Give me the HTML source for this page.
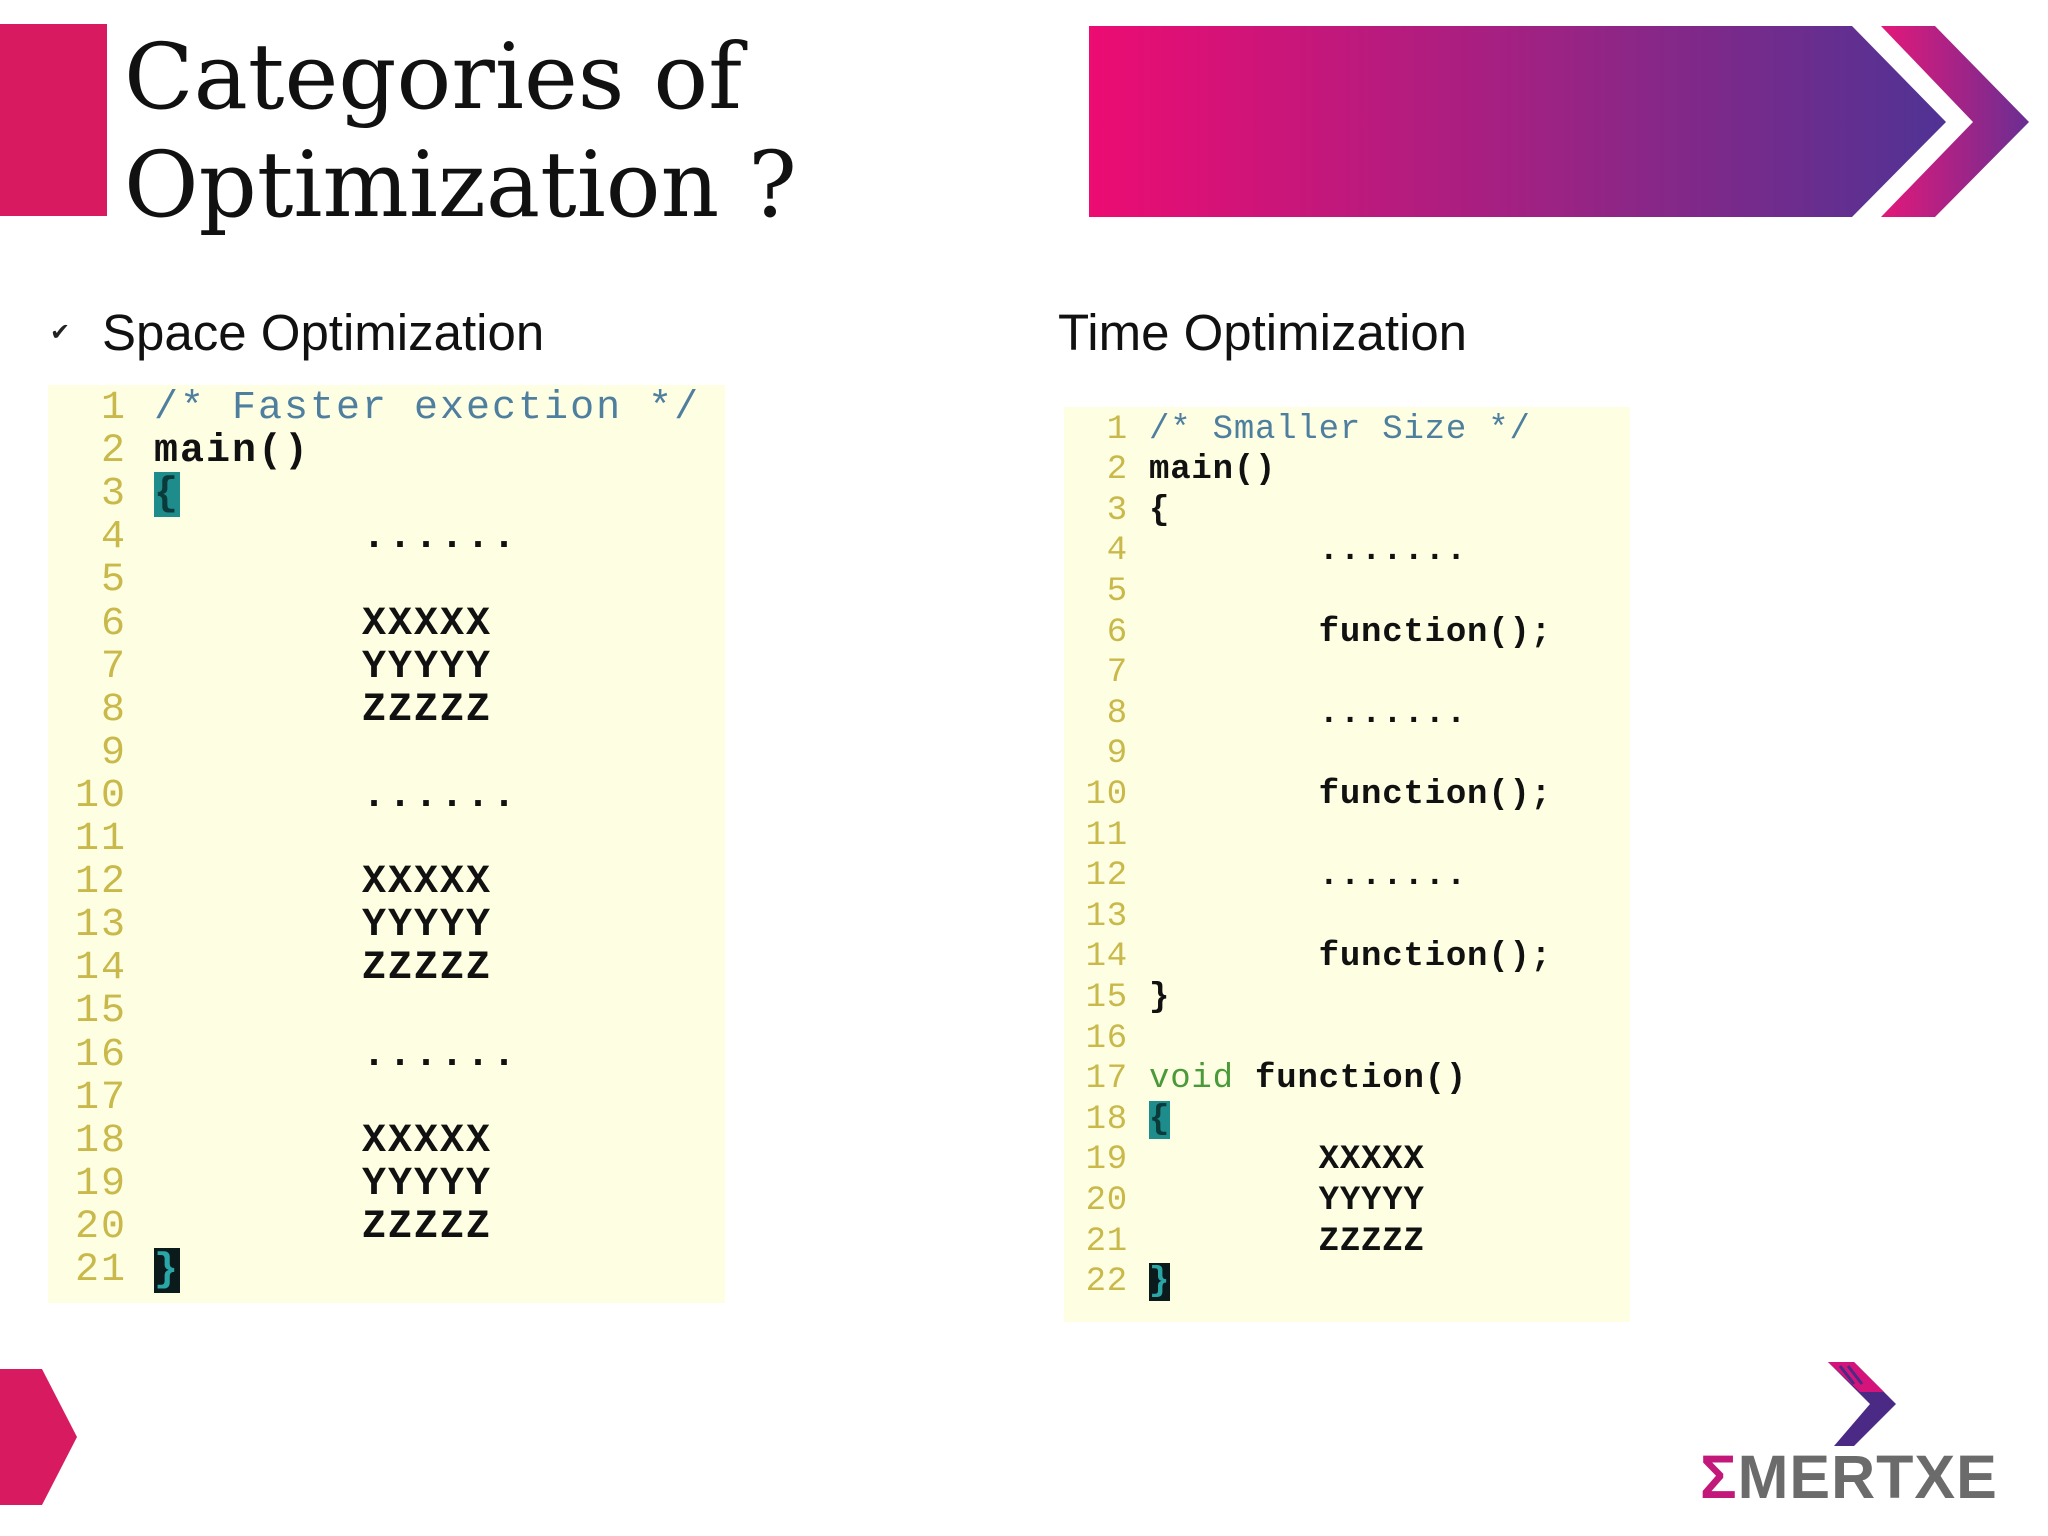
<!DOCTYPE html>
<html><head><meta charset="utf-8">
<style>
html,body{margin:0;padding:0;background:#fff;}
#page{position:relative;width:2048px;height:1536px;overflow:hidden;background:#fff;font-family:"Liberation Sans",sans-serif;}
.abs{position:absolute;}
.title{font-family:"DejaVu Serif","Liberation Serif",serif;font-size:91px;color:#111;left:124px;white-space:nowrap;line-height:1;}
.sub{font-size:51px;color:#111;white-space:nowrap;line-height:1;}
.codebox{background:#fefee3;}
.ln{position:absolute;text-align:right;font-family:"Liberation Mono",monospace;color:#c9b84a;white-space:pre;}
.cl{position:absolute;font-family:"Liberation Mono",monospace;color:#111;white-space:pre;font-weight:bold;}
.cm{color:#4f7f9f;font-weight:normal;}
.kw{color:#4a9a3a;font-weight:normal;}
.cur{background:#1f8c8c;color:#0a3a3a;}
.curd{background:#0b1a1a;color:#2aa6a6;}
</style></head>
<body>
<div id="page">
  <div class="abs" style="left:0;top:24px;width:107px;height:192px;background:#d81b60;"></div>
  <div class="abs title" style="top:32px;">Categories of</div>
  <div class="abs title" style="top:140px;">Optimization ?</div>

  <svg class="abs" style="left:1089px;top:26px;" width="940" height="192" viewBox="0 0 940 192">
    <defs>
      <linearGradient id="g1" x1="0" x2="1" y1="0" y2="0">
        <stop offset="0" stop-color="#ec0c72"/>
        <stop offset="0.55" stop-color="#9a2384"/>
        <stop offset="1" stop-color="#4f3394"/>
      </linearGradient>
      <linearGradient id="g2" x1="0" x2="1" y1="0" y2="0">
        <stop offset="0" stop-color="#e3187a"/>
        <stop offset="1" stop-color="#6a2e92"/>
      </linearGradient>
    </defs>
    <polygon points="0,0 763,0 857,96 763,191 0,191" fill="url(#g1)"/>
    <polygon points="792,0 846,0 940,96 846,191 792,191 884,96" fill="url(#g2)"/>
  </svg>

  <div class="abs" style="left:50px;top:318px;font-size:24px;color:#222;">✔</div>
  <div class="abs sub" style="left:102px;top:307px;">Space Optimization</div>
  <div class="abs sub" style="left:1058px;top:307px;">Time Optimization</div>

  <div class="abs codebox" id="boxL" style="left:48px;top:385px;width:677px;height:918px;"></div>
  <div class="abs codebox" id="boxR" style="left:1064px;top:407px;width:566px;height:915px;"></div>

  <svg class="abs" style="left:0;top:1369px;" width="80" height="140">
    <polygon points="0,0 42,0 77,68 42,136 0,136" fill="#d81b60"/>
  </svg>

  <svg class="abs" style="left:1820px;top:1362px;" width="80" height="90">
    <polygon points="8,0 34,0 76,42 34,84 14,84 50,42" fill="#4b2a86"/>
    <polygon points="8,0 34,0 64,30 40,30" fill="#d4147a"/>
    <line x1="20" y1="4" x2="34" y2="22" stroke="#4b2a86" stroke-width="3"/>
    <line x1="28" y1="4" x2="42" y2="22" stroke="#4b2a86" stroke-width="3"/>
  </svg>
  <div class="abs" style="left:1700px;top:1447px;font-size:61px;font-weight:bold;color:#6b6b6b;letter-spacing:1px;line-height:1;white-space:nowrap;"><span style="color:#c2187a;">Σ</span>MERTXE</div>
</div>
<script>
const leftLines = [
  '<span class="cm">/* Faster exection */</span>','main()','<span class="cur">{</span>','        ......','','        XXXXX','        YYYYY','        ZZZZZ','','        ......','','        XXXXX','        YYYYY','        ZZZZZ','','        ......','','        XXXXX','        YYYYY','        ZZZZZ','<span class="curd">}</span>'
];
const rightLines = [
  '<span class="cm">/* Smaller Size */</span>','main()','{','        .......','','        function();','','        .......','','        function();','','        .......','','        function();','}','','<span class="kw">void</span> function()','<span class="cur">{</span>','        XXXXX','        YYYYY','        ZZZZZ','<span class="curd">}</span>'
];
function drawCode(lines, cfg, prefix){
  const page = document.getElementById('page');
  lines.forEach((txt, i) => {
    const y = cfg.top + i * cfg.step;
    const n = document.createElement('div');
    n.className = 'ln';
    
    
    n.style.cssText = `left:${cfg.numRight-80}px;width:80px;top:${y - cfg.fs*0.6}px;font-size:${cfg.fs}px;letter-spacing:${cfg.ls}px;line-height:${cfg.fs*1.2}px;`;
    n.textContent = String(i + 1);
    page.appendChild(n);
    const c = document.createElement('div');
    c.className = 'cl';
    
    
    c.style.cssText = `left:${cfg.codeLeft}px;top:${y - cfg.fs*0.6}px;font-size:${cfg.fs}px;letter-spacing:${cfg.ls}px;line-height:${cfg.fs*1.2}px;`;
    c.innerHTML = txt;
    page.appendChild(c);
  });
}
drawCode(leftLines, {top:409, step:43.1, numRight:127, codeLeft:154, fs:40, ls:2}, 'space');
drawCode(rightLines, {top:430, step:40.6, numRight:1128, codeLeft:1149, fs:34, ls:0.8}, 'time');
</script>
</body></html>
